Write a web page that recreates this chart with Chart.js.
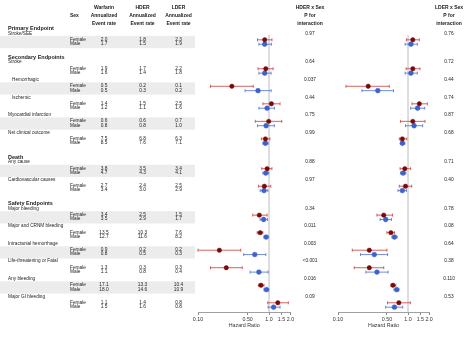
<!DOCTYPE html>
<html>
<head>
<meta charset="utf-8">
<script src="https://cdn.jsdelivr.net/npm/chart.js@4"></script>
<style>
  html, body { margin: 0; padding: 0; background: #fff; }
  #wrap { position: relative; width: 474px; height: 342px; }
  #wrap canvas { position: absolute; left: 0; top: 0; }
</style>
</head>
<body>
<div id="wrap">
  <canvas id="hderChart" width="474" height="342"></canvas>
  <canvas id="lderChart" width="474" height="342"></canvas>
</div>
<script>
// -----------------------
// Data
// -----------------------
const endpoints = ['Stroke/SEE', 'Stroke', 'Hemorrhagic', 'Ischemic', 'Myocardial infarction',
  'Net clinical outcome', 'Any cause', 'Cardiovascular causes', 'Major bleeding',
  'Major and CRNM bleeding', 'Intracranial hemorrhage', 'Life-threatening or Fatal',
  'Any bleeding', 'Major GI bleeding'];
const indented = ['Hemorrhagic', 'Ischemic'];
const sections = ['Primary Endpoint', 'Secondary Endpoints', 'Death', 'Safety Endpoints'];
const sectionStart = [0, 1, 6, 8];          // endpoint index where each section begins
const rowPos = [0, 1.65, 2.65, 3.65, 4.65, 5.65, 7.35, 8.35, 10, 11, 12, 13, 14, 15];
const sexes = ['Female', 'Male'];

// annualized event rates (%/yr)
const warfarinFemale = [2.0, 1.9, 0.5, 1.4, 0.6, 7.5, 3.8, 2.7, 3.4, 13.5, 0.9, 1.3, 17.1, 1.1];
const warfarinMale   = [1.7, 1.6, 0.5, 1.2, 0.8, 8.5, 4.7, 3.4, 3.5, 12.7, 0.8, 1.1, 18.0, 1.5];
const hderFemale     = [1.8, 1.7, 0.2, 1.5, 0.6, 6.8, 3.5, 2.4, 2.5, 10.3, 0.2, 0.3, 13.3, 1.4];
const hderMale       = [1.5, 1.4, 0.3, 1.1, 0.8, 7.6, 4.3, 3.0, 2.9, 11.6, 0.5, 0.8, 14.6, 1.6];
const lderFemale     = [2.3, 2.2, 0.1, 2.5, 0.7, 6.3, 3.4, 2.5, 1.5, 7.6, 0.2, 0.3, 10.4, 0.8];
const lderMale       = [1.9, 1.8, 0.2, 1.6, 1.0, 7.1, 4.1, 2.9, 1.7, 8.2, 0.3, 0.4, 10.9, 0.8];

// hazard ratios [HR, lower, upper]
const hderHrFemale = [[0.87,0.69,1.10],[0.90,0.70,1.14],[0.30,0.15,0.60],[1.08,0.82,1.43],[0.99,0.64,1.51],
  [0.89,0.78,1.03],[0.94,0.79,1.10],[0.86,0.71,1.06],[0.73,0.59,0.94],[0.75,0.68,0.82],
  [0.20,0.10,0.40],[0.25,0.15,0.42],[0.77,0.71,0.85],[1.33,0.96,1.87]];
const hderHrMale = [[0.87,0.72,1.08],[0.87,0.72,1.07],[0.70,0.46,1.07],[0.94,0.72,1.19],[0.91,0.69,1.19],
  [0.89,0.82,0.97],[0.90,0.82,0.99],[0.85,0.75,0.96],[0.84,0.75,0.95],[0.91,0.85,0.97],
  [0.63,0.44,0.90],[0.72,0.54,0.97],[0.92,0.85,0.99],[1.16,0.97,1.43]];
const lderHrFemale = [[1.17,0.95,1.45],[1.17,0.94,1.48],[0.27,0.13,0.54],[1.45,1.14,1.89],[1.17,0.78,1.75],
  [0.83,0.75,0.96],[0.90,0.77,1.09],[0.92,0.75,1.13],[0.45,0.36,0.60],[0.57,0.50,0.64],
  [0.28,0.16,0.50],[0.28,0.17,0.45],[0.61,0.57,0.67],[0.74,0.51,1.08]];
const lderHrMale = [[1.10,0.91,1.36],[1.10,0.91,1.36],[0.37,0.22,0.62],[1.37,1.09,1.73],[1.22,0.92,1.62],
  [0.83,0.78,0.90],[0.85,0.78,0.93],[0.83,0.72,0.95],[0.48,0.40,0.58],[0.64,0.59,0.70],
  [0.33,0.21,0.51],[0.36,0.25,0.52],[0.69,0.63,0.74],[0.64,0.48,0.84]];

const pHder = ['0.97','0.64','0.037','0.44','0.75','0.99','0.88','0.97','0.34','0.011','0.003','<0.001','0.016','0.09'];
const pLder = ['0.76','0.72','0.44','0.74','0.87','0.68','0.71','0.40','0.78','0.08','0.64','0.38','0.110','0.53'];

const xTicks = [0.1, 0.5, 1, 1.5, 2];
const xTickLabels = ['0.10', '0.50', '1.0', '1.5', '2.0'];

// -----------------------
// Helpers / plugins
// -----------------------
const FONT = '"Liberation Sans", Arial, sans-serif';
function txt(ctx, s, x, y, size, bold, align) {
  ctx.font = (bold ? 'bold ' : '') + size + 'px ' + FONT;
  ctx.textAlign = align || 'left';
  ctx.textBaseline = 'middle';
  ctx.fillStyle = '#222';
  ctx.fillText(s, x, y);
}

const refLine = {
  id: 'refLine',
  beforeDatasetsDraw(chart) {
    const { ctx, chartArea, scales: { x } } = chart;
    const px = x.getPixelForValue(1);
    ctx.save();
    ctx.strokeStyle = '#d2d2d2';
    ctx.lineWidth = 1.5;
    ctx.beginPath();
    ctx.moveTo(px, chartArea.top);
    ctx.lineTo(px, chartArea.bottom);
    ctx.stroke();
    ctx.restore();
  }
};

const errorBars = {
  id: 'errorBars',
  beforeDatasetsDraw(chart) {
    const { ctx, scales: { x, y } } = chart;
    chart.data.datasets.forEach(ds => {
      ctx.save();
      ctx.strokeStyle = ds.barColor;
      ctx.lineWidth = 0.8;
      ds.data.forEach(p => {
        const py = y.getPixelForValue(p.y);
        const x1 = x.getPixelForValue(p.lo), x2 = x.getPixelForValue(p.hi);
        ctx.beginPath();
        ctx.moveTo(x1, py); ctx.lineTo(x2, py);
        ctx.moveTo(x1, py - 1.5); ctx.lineTo(x1, py + 1.5);
        ctx.moveTo(x2, py - 1.5); ctx.lineTo(x2, py + 1.5);
        ctx.stroke();
      });
      ctx.restore();
    });
  }
};

// p-value column, drawn by each chart
function pColumn(pValues, cx, title) {
  return {
    id: 'pColumn',
    afterDraw(chart) {
      const { ctx, scales: { y } } = chart;
      ctx.save();
      txt(ctx, title, cx, 7.5, 5, true, 'center');
      txt(ctx, 'P for', cx, 15.5, 5, true, 'center');
      txt(ctx, 'interaction', cx, 23.5, 5, true, 'center');
      pValues.forEach((p, i) => txt(ctx, p, cx, y.getPixelForValue(rowPos[i] - 0.5), 4.8, false, 'center'));
      ctx.restore();
    }
  };
}

// left-hand table of endpoints and event rates
const table = {
  id: 'table',
  beforeDraw(chart) {
    const { ctx, scales: { y } } = chart;
    ctx.save();
    ctx.fillStyle = '#ececec';
    rowPos.forEach((r, i) => {
      if (i % 2 === 0) {
        const t = y.getPixelForValue(r - 0.35), b = y.getPixelForValue(r + 0.35);
        ctx.fillRect(0, t, 195, b - t);
      }
    });
    ctx.restore();
  },
  afterDraw(chart) {
    const { ctx, scales: { y } } = chart;
    ctx.save();
    // column headers
    txt(ctx, 'Sex', 70, 15.5, 5, true);
    [['Warfarin', 104], ['HDER', 142.5], ['LDER', 178.5]].forEach(([h, cx]) => {
      txt(ctx, h, cx, 7.5, 5, true, 'center');
      txt(ctx, 'Annualized', cx, 15.5, 5, true, 'center');
      txt(ctx, 'Event rate', cx, 23.5, 5, true, 'center');
    });
    sections.forEach((s, k) => txt(ctx, s, 8, y.getPixelForValue(rowPos[sectionStart[k]] - 0.79), 5.5, true));
    endpoints.forEach((e, i) => {
      const r = rowPos[i];
      txt(ctx, e, indented.includes(e) ? 12 : 8, y.getPixelForValue(r - 0.5), 4.7, false);
      const rows = [[warfarinFemale, hderFemale, lderFemale], [warfarinMale, hderMale, lderMale]];
      rows.forEach((vals, s) => {
        const py = y.getPixelForValue(r + (s === 0 ? -0.15 : 0.1));
        txt(ctx, sexes[s], 70, py, 4.8, false);
        [104, 142.5, 178.5].forEach((cx, c) => txt(ctx, vals[c][i].toFixed(1), cx, py, 4.8, false, 'center'));
      });
    });
    ctx.restore();
  }
};

// -----------------------
// Forest plot factory
// -----------------------
function toPoints(hr, offset) {
  return hr.map((d, i) => ({ x: d[0], lo: d[1], hi: d[2], y: rowPos[i] + offset }));
}

function forestChart(id, hrFemale, hrMale, padLeft, padRight, extraPlugins) {
  const ctx = document.getElementById(id).getContext('2d');
  return new Chart(ctx, {
    type: 'scatter',
    data: {
      datasets: [
        { label: 'Female', data: toPoints(hrFemale, -0.125), barColor: '#cc3a3a',
          pointRadius: 2.2, backgroundColor: '#780a0a', borderColor: '#780a0a', borderWidth: 0.5, clip: false },
        { label: 'Male', data: toPoints(hrMale, 0.125), barColor: '#4a6fd2',
          pointRadius: 2.4, backgroundColor: '#3d62cc', borderColor: '#3d62cc', borderWidth: 0.5, clip: false }
      ]
    },
    options: {
      responsive: false,
      animation: false,
      layout: { padding: { left: padLeft, right: padRight, top: 35, bottom: 0 } },
      plugins: { legend: { display: false }, tooltip: { enabled: false } },
      scales: {
        x: {
          type: 'logarithmic',
          min: 0.1,
          max: 2,
          afterBuildTicks: s => { s.ticks = xTicks.map(v => ({ value: v })); },
          afterFit: s => { s.height = 30; },
          ticks: {
            callback: (v, i) => xTickLabels[i],
            autoSkip: false, maxRotation: 0, padding: 1,
            font: { size: 5.3, family: FONT }, color: '#333'
          },
          grid: { drawOnChartArea: false, drawTicks: true, tickLength: 3, color: '#888' },
          border: { color: '#888', width: 0.8 },
          title: { display: true, text: 'Hazard Ratio', font: { size: 5.3, family: FONT },
                   color: '#333', padding: { top: 0, bottom: 13 } }
        },
        y: { type: 'linear', display: false, min: -0.4, max: 15.4, reverse: true }
      }
    },
    plugins: [refLine, errorBars, ...extraPlugins]
  });
}

forestChart('hderChart', hderHrFemale, hderHrMale, 198, 474 - 290.4, [table, pColumn(pHder, 310, 'HDER x Sex')]);
forestChart('lderChart', lderHrFemale, lderHrMale, 338, 474 - 429.1, [pColumn(pLder, 449, 'LDER x Sex')]);
</script>
</body>
</html>
